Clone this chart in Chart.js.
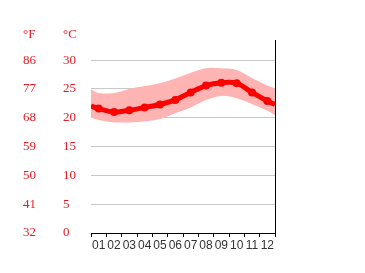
<!DOCTYPE html>
<html>
<head>
<meta charset="utf-8">
<script src="https://cdn.jsdelivr.net/npm/chart.js@4/dist/chart.umd.min.js"></script>
<style>
  html, body { margin: 0; padding: 0; background: #fff; }
  #wrap { width: 365px; height: 273px; }
</style>
</head>
<body>
<div id="wrap"><canvas id="climateChart" width="365" height="273"></canvas></div>
<script>
const months = ['01', '02', '03', '04', '05', '06', '07', '08', '09', '10', '11', '12'];
// monthly mean, max and min in °C
const meanC = [21.6, 21.0, 21.3, 21.8, 22.3, 23.1, 24.4, 25.6, 26.1, 26.0, 24.4, 22.9];
const maxC = [24.3, 24.3, 25.0, 25.5, 26.0, 26.8, 27.8, 28.6, 28.6, 28.3, 26.9, 25.6];
const minC = [19.6, 19.2, 19.2, 19.4, 19.8, 20.8, 21.8, 23.1, 23.8, 23.4, 22.4, 21.2];
// values where the curves meet the left and right edge of the plot
const meanEdge = [22.0, 22.3];
const maxEdge = [24.9, 25.1];
const minEdge = [20.0, 20.5];
const celsiusTicks = [0, 5, 10, 15, 20, 25, 30];
const fahrenheitTicks = [32, 41, 50, 59, 68, 77, 86];

const red = 'rgb(228, 26, 36)';
const yMaxC = 33.5;

// x positions: month index, edges half a month out
function toPoints(vals, edge) {
  const pts = [{ x: -0.5, y: edge[0] }];
  vals.forEach((v, i) => pts.push({ x: i, y: v }));
  pts.push({ x: months.length - 0.5, y: edge[1] });
  return pts;
}

const unitLabels = {
  id: 'unitLabels',
  afterDraw(chart) {
    const ctx = chart.ctx;
    ctx.save();
    ctx.fillStyle = red;
    ctx.font = '13px "Liberation Serif"';
    ctx.textBaseline = 'middle';
    ctx.textAlign = 'left';
    ctx.fillText('°F', chart.scales.yF.left, 35);
    ctx.fillText('°C', chart.scales.y.left, 35);
    ctx.restore();
  }
};

const ctx = document.getElementById('climateChart').getContext('2d');
new Chart(ctx, {
  type: 'line',
  data: {
    datasets: [
      {
        label: 'mean',
        data: toPoints(meanC, meanEdge),
        xAxisID: 'xl',
        yAxisID: 'y',
        borderColor: '#ff0000',
        borderWidth: 5,
        pointRadius: [0, 4, 4, 4, 4, 4, 4, 4, 4, 4, 4, 4, 4, 0],
        pointBackgroundColor: '#ff0000',
        pointBorderWidth: 0,
        tension: 0.3,
        fill: false,
        order: 0
      },
      {
        label: 'max',
        data: toPoints(maxC, maxEdge),
        xAxisID: 'xl',
        yAxisID: 'y',
        borderWidth: 0,
        borderColor: 'rgba(255,0,0,0)',
        pointRadius: 0,
        backgroundColor: 'rgb(255, 180, 180)',
        tension: 0.35,
        fill: '+1',
        order: 1
      },
      {
        label: 'min',
        data: toPoints(minC, minEdge),
        xAxisID: 'xl',
        yAxisID: 'y',
        borderWidth: 0,
        borderColor: 'rgba(255,0,0,0)',
        pointRadius: 0,
        tension: 0.35,
        fill: false,
        order: 2
      }
    ]
  },
  options: {
    responsive: false,
    animation: false,
    events: [],
    layout: { padding: { left: 23, right: 90, top: 40, bottom: 10 } },
    plugins: { legend: { display: false }, tooltip: { enabled: false } },
    scales: {
      x: {
        type: 'category',
        labels: months,
        offset: true,
        position: 'bottom',
        grid: { offset: true, drawOnChartArea: false, drawTicks: true, tickLength: 4, color: '#000' },
        border: { display: true, color: '#000', width: 1 },
        ticks: { color: '#333', font: { family: '"Liberation Sans"', size: 12 }, padding: 1, maxRotation: 0, autoSkip: false },
        afterFit(scale) { scale.height = 30; }
      },
      xl: {
        type: 'linear',
        display: false,
        min: -0.5,
        max: months.length - 0.5
      },
      y: {
        type: 'linear',
        position: 'left',
        weight: 0,
        min: 0,
        max: yMaxC,
        afterBuildTicks(scale) { scale.ticks = celsiusTicks.map(v => ({ value: v })); },
        grid: { color: '#c8c8c8', drawTicks: false },
        border: { display: false },
        ticks: { color: red, crossAlign: 'far', padding: 0, font: { family: '"Liberation Serif"', size: 13 } },
        afterFit(scale) { scale.width = 28; }
      },
      yF: {
        type: 'linear',
        position: 'left',
        weight: 1,
        min: 32,
        max: 32 + yMaxC * 1.8,
        afterBuildTicks(scale) { scale.ticks = fahrenheitTicks.map(v => ({ value: v })); },
        grid: { display: false, drawTicks: false },
        border: { display: false },
        ticks: { color: red, crossAlign: 'far', padding: 0, font: { family: '"Liberation Serif"', size: 13 } },
        afterFit(scale) { scale.width = 40; }
      },
      yr: {
        type: 'linear',
        position: 'right',
        min: 0,
        max: yMaxC,
        grid: { display: false, drawTicks: false },
        border: { display: true, color: '#000', width: 1 },
        ticks: { display: false },
        afterFit(scale) { scale.width = 0; }
      }
    }
  },
  plugins: [unitLabels]
});
</script>
</body>
</html>
